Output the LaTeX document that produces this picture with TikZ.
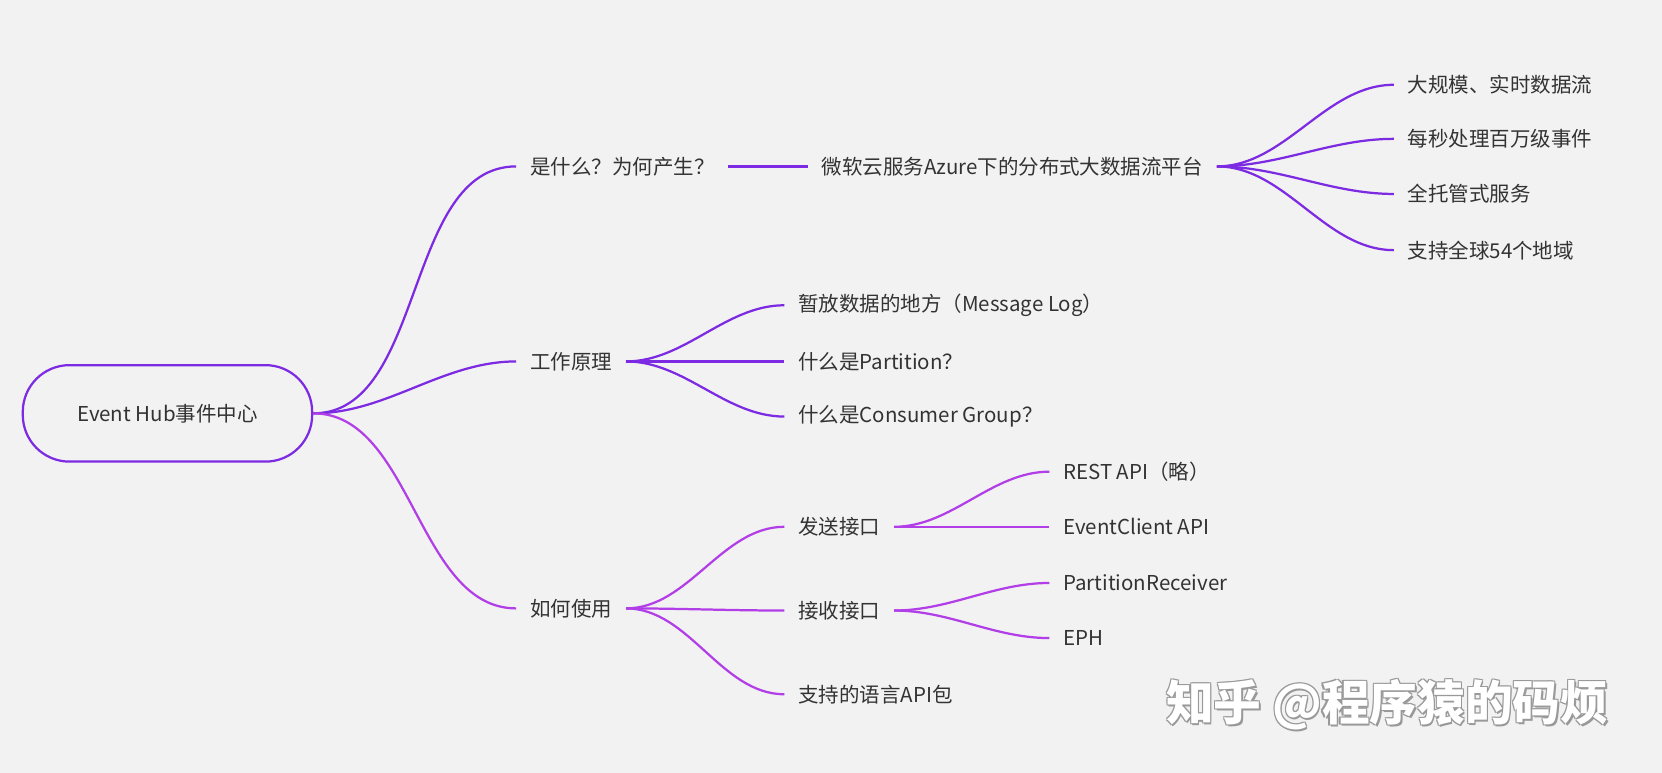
\documentclass[tikz,border=0pt]{standalone}
\usepackage{fontspec}
\setmainfont{Noto Sans CJK SC}
\begin{document}
\begin{tikzpicture}[x=0.05cm,y=0.05cm,
  txt/.style={anchor=west,inner xsep=0.65cm,inner ysep=0pt,text=black!80,font=\fontsize{27.5}{32}\selectfont},
  up/.style={line width=3pt,color={rgb,255:red,124;green,43;blue,226}},
  lo/.style={line width=3pt,color={rgb,255:red,178;green,62;blue,232}},
  cv/.style={out=0,in=180,looseness=0.9},
  wmk/.style={anchor=west,inner sep=0pt,font=\fontsize{64}{70}\selectfont\bfseries}]
\fill[fill={rgb,255:red,242;green,242;blue,242}] (0,0) rectangle (1568,729);
\useasboundingbox (0,0) rectangle (1568,729);
\node[draw={rgb,255:red,124;green,43;blue,226},line width=3pt,rounded corners=2.2cm,minimum width=273*0.05cm,minimum height=91*0.05cm,text=black!80,font=\fontsize{27.5}{32}\selectfont] (root) at (158,339) {Event Hub事件中心};
\node[txt] (a) at (487,572) {是什么？为何产生？};
\node[txt] (b) at (487,388) {工作原理};
\node[txt] (c) at (487,155) {如何使用};
\node[txt] (a1) at (762,572) {微软云服务Azure下的分布式大数据流平台};
\node[txt] (a11) at (1315,649) {大规模、实时数据流};
\node[txt] (a12) at (1315,598) {每秒处理百万级事件};
\node[txt] (a13) at (1315,546) {全托管式服务};
\node[txt] (a14) at (1315,493) {支持全球54个地域};
\node[txt] (b1) at (740,441) {暂放数据的地方（Message Log）};
\node[txt] (b2) at (740,388) {什么是Partition？};
\node[txt] (b3) at (740,336) {什么是Consumer Group？};
\node[txt] (c1) at (740,232) {发送接口};
\node[txt] (c2) at (740,153) {接收接口};
\node[txt] (c3) at (740,74) {支持的语言API包};
\node[txt] (c11) at (990,284) {REST API（略）};
\node[txt] (c12) at (990,232) {EventClient API};
\node[txt] (c21) at (990,179) {PartitionReceiver};
\node[txt] (c22) at (990,127) {EPH};
\draw[up] (root.east) to[cv] (a.west);
\draw[up] (root.east) to[cv] (b.west);
\draw[lo] (root.east) to[cv] (c.west);
\draw[up] (a.east) -- (a1.west);
\foreach \t in {a11,a12,a13,a14} \draw[up] (a1.east) to[cv] (\t.west);
\foreach \t in {b1,b2,b3} \draw[up] (b.east) to[cv] (\t.west);
\foreach \t in {c1,c2,c3} \draw[lo] (c.east) to[cv] (\t.west);
\foreach \t in {c11,c12} \draw[lo] (c1.east) to[cv] (\t.west);
\foreach \t in {c21,c22} \draw[lo] (c2.east) to[cv] (\t.west);
\foreach \dx/\dy in {-1/-1,1/-1,-1/1,1/1,1.5/-1.5}
  \node[wmk,text=black!40] at (1100+\dx,64+\dy) {知乎 @程序猿的码烦};
\node[wmk,text=white] (wm) at (1100,64) {知乎 @程序猿的码烦};
\end{tikzpicture}
\end{document}
